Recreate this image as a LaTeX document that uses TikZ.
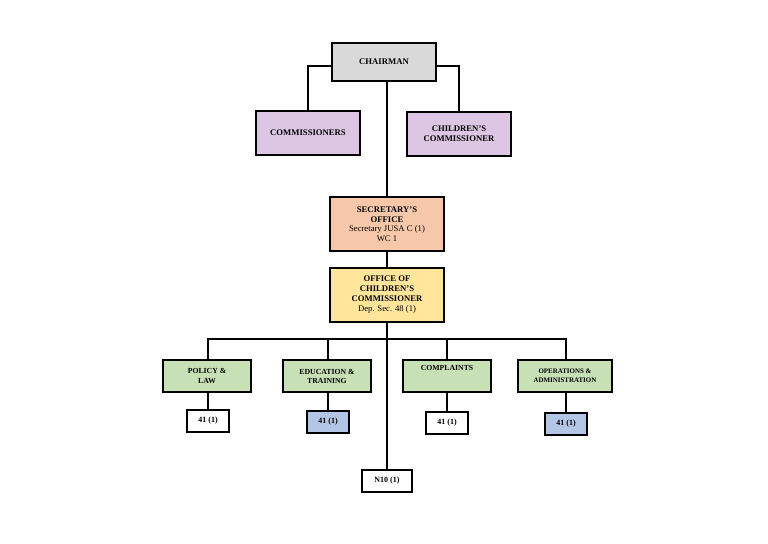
\documentclass[tikz,border=0pt]{standalone}
\usepackage{fontspec}
\setmainfont{Liberation Serif}
\usetikzlibrary{positioning}
\definecolor{chairgray}{HTML}{D9D9D9}
\definecolor{commpurple}{HTML}{DDC6E3}
\definecolor{secsalmon}{HTML}{F6C8A9}
\definecolor{offyellow}{HTML}{FFE59A}
\definecolor{unitgreen}{HTML}{C7E0B5}
\definecolor{gradeblue}{HTML}{B4C6E6}
\begin{document}
\begin{tikzpicture}[
        x=0.75pt, y=-0.75pt,
        box/.style={rectangle, draw, line width=1.4pt, align=center, font=\fontsize{6.5}{7.5}\selectfont\bfseries, inner sep=1pt},
        top/.style={box, fill=chairgray, minimum width=78pt, minimum height=28pt},
        comm/.style={box, fill=commpurple, minimum width=78pt, minimum height=33pt},
        office/.style={box, minimum width=86pt, minimum height=41pt},
        unit/.style={box, fill=unitgreen, minimum width=66pt, minimum height=24pt, font=\fontsize{5.8}{6.8}\selectfont\bfseries},
        grade/.style={box, minimum width=32pt, minimum height=16pt, font=\fontsize{6}{7}\selectfont\bfseries},
        link/.style={line width=1.1pt},
        ]
    \useasboundingbox (0,0) rectangle (768,543);

        % Nodes
        \node[top] (Chairman) at (384,62) {CHAIRMAN};
        \node[comm] (Commissioners) at (308,133) {COMMISSIONERS};
        \node[comm] (ChildComm) at (459,134) {CHILDREN'S\\COMMISSIONER};
        \node[office, fill=secsalmon] (SecOffice) at (387,224) {SECRETARY'S\\OFFICE\\[-0.5pt]{\mdseries Secretary JUSA C (1)}\\{\mdseries WC 1}};
        \node[office, fill=offyellow] (ChildOffice) at (387,295) {OFFICE OF\\CHILDREN'S\\COMMISSIONER\\{\mdseries Dep. Sec. 48 (1)}};
        \node[unit] (Policy) at (207,376) {POLICY \&\\LAW};
        \node[unit] (Education) at (327,376) {EDUCATION \&\\TRAINING};
        \node[unit] (Complaints) at (447,376) {COMPLAINTS\\[6pt]};
        \node[unit, minimum width=71pt] (Operations) at (565,376) {\fontsize{5.2}{6.2}\selectfont OPERATIONS \&\\\fontsize{5.2}{6.2}\selectfont ADMINISTRATION};
        \node[grade] (PolicyGrade) at (208,421) {41 (1)};
        \node[grade, fill=gradeblue] (EducationGrade) at (328,422) {41 (1)};
        \node[grade] (ComplaintsGrade) at (447,423) {41 (1)};
        \node[grade, fill=gradeblue] (OperationsGrade) at (566,424) {41 (1)};
        \node[grade, minimum width=37pt, minimum height=17pt] (NTen) at (387,481) {N10 (1)};

        % Connectors
        \coordinate (Bar) at (387,339);
        \draw[link] (Chairman.west |- 0,66) -| (Commissioners);
        \draw[link] (Chairman.east |- 0,66) -| (ChildComm);
        \draw[link] (Chairman.south -| SecOffice) -- (SecOffice);
        \draw[link] (SecOffice) -- (ChildOffice);
        \draw[link] (ChildOffice) -- (NTen);
        \draw[link] (Policy.north -| PolicyGrade) |- (Bar) -| (Operations.north -| OperationsGrade);
        \draw[link] (Bar -| EducationGrade) -- (Education.north -| EducationGrade);
        \draw[link] (Bar -| Complaints) -- (Complaints);
        \draw[link] (Policy.south -| PolicyGrade) -- (PolicyGrade);
        \draw[link] (Education.south -| EducationGrade) -- (EducationGrade);
        \draw[link] (Complaints) -- (ComplaintsGrade);
        \draw[link] (Operations.south -| OperationsGrade) -- (OperationsGrade);

    \end{tikzpicture}
\end{document}
